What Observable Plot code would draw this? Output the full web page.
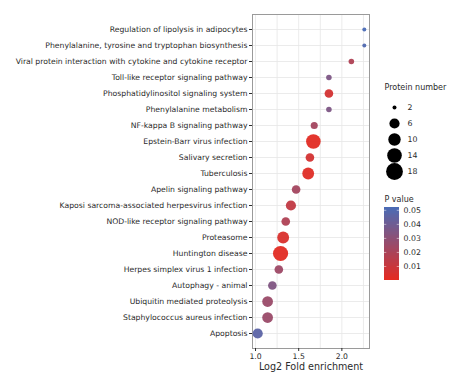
<!DOCTYPE html>
<html>
<head>
<meta charset="utf-8">
<script src="https://cdn.jsdelivr.net/npm/d3@7"></script>
<script src="https://cdn.jsdelivr.net/npm/@observablehq/plot@0.6"></script>
<style>
  html, body { margin: 0; padding: 0; background: #fff; }
  #wrap { position: relative; width: 474px; height: 380px; overflow: hidden; }
  #wrap > svg, #wrap > figure { position: absolute; margin: 0; }
</style>
</head>
<body>
<div id="wrap"></div>
<script>
const pathways = [
  "Regulation of lipolysis in adipocytes",
  "Phenylalanine, tyrosine and tryptophan biosynthesis",
  "Viral protein interaction with cytokine and cytokine receptor",
  "Toll-like receptor signaling pathway",
  "Phosphatidylinositol signaling system",
  "Phenylalanine metabolism",
  "NF-kappa B signaling pathway",
  "Epstein-Barr virus infection",
  "Salivary secretion",
  "Tuberculosis",
  "Apelin signaling pathway",
  "Kaposi sarcoma-associated herpesvirus infection",
  "NOD-like receptor signaling pathway",
  "Proteasome",
  "Huntington disease",
  "Herpes simplex virus 1 infection",
  "Autophagy - animal",
  "Ubiquitin mediated proteolysis",
  "Staphylococcus aureus infection",
  "Apoptosis"
];
const log2FoldEnrichment = [2.26, 2.26, 2.11, 1.85, 1.85, 1.85, 1.68, 1.67, 1.63, 1.61, 1.47, 1.41, 1.35, 1.32, 1.29, 1.27, 1.195, 1.14, 1.14, 1.025];
const proteinNumber = [2, 2, 3, 3, 5, 3, 4, 14, 5, 9, 5, 6, 5, 9, 15, 5, 5, 7, 7, 6];
const pValue = [0.052, 0.050, 0.018, 0.035, 0.006, 0.035, 0.022, 0.001, 0.006, 0.002, 0.022, 0.012, 0.018, 0.004, 0.001, 0.024, 0.034, 0.025, 0.025, 0.046];

const xTicks = [1.0, 1.5, 2.0];
const xGrid = [1.0, 1.25, 1.5, 1.75, 2.0, 2.25];
const sizeTicks = [2, 6, 10, 14, 18];
const pTicks = [0.01, 0.02, 0.03, 0.04, 0.05];
const xLabel = "Log2 Fold enrichment";
const sizeTitle = "Protein number";
const colorTitle = "P value";

const data = pathways.map((name, i) => ({
  name, fe: log2FoldEnrichment[i], n: proteinNumber[i], p: pValue[i]
}));

const font = "DejaVu Sans, Verdana, sans-serif";
const rScale = {type: "linear", domain: [2, 6, 18], range: [2, 5.1, 8.4]};
const colorScale = {type: "linear", domain: [0, 0.052], range: ["#e52a20", "#4a6cb6"], interpolate: "rgb"};

const wrap = document.getElementById("wrap");

const main = Plot.plot({
  width: 474, height: 380,
  marginLeft: 252, marginRight: 105, marginTop: 14, marginBottom: 32,
  style: {fontFamily: font, fontSize: "7.7px", color: "#2b2b2b", background: "transparent", overflow: "visible"},
  x: {domain: [0.965, 2.32]},
  y: {type: "point", domain: pathways, padding: 0.54},
  r: rScale,
  color: colorScale,
  marks: [
    Plot.ruleX(xGrid, {stroke: "#e6e6e6", strokeWidth: 0.8}),
    Plot.gridY({stroke: "#e6e6e6", strokeOpacity: 1, strokeWidth: 0.8}),
    Plot.frame({stroke: "#9a9a9a", strokeWidth: 1}),
    Plot.axisY({tickSize: 3, tickPadding: 2, label: null}),
    Plot.axisX({ticks: xTicks, tickFormat: ".1f", tickSize: 3, tickPadding: 2, label: null}),
    Plot.dot(data, {x: "fe", y: "name", r: "n", fill: "p", fillOpacity: 0.95}),
    Plot.text([xLabel], {frameAnchor: "bottom", lineAnchor: "top", dy: 14.5, fontSize: 9.6, fill: "#2b2b2b"})
  ]
});
main.style.left = "0px"; main.style.top = "0px";
wrap.appendChild(main);

// size legend
const sizeLegend = Plot.plot({
  width: 104, height: 110, margin: 0,
  style: {fontFamily: font, fontSize: "7.8px", color: "#2b2b2b", background: "transparent", overflow: "visible"},
  y: {domain: [2, 18], range: [33, 97], axis: null},
  r: rScale,
  marks: [
    Plot.text([sizeTitle], {frameAnchor: "top-left", dx: 14, dy: 13, fontSize: 8, textAnchor: "start", lineAnchor: "middle", fill: "#2b2b2b"}),
    Plot.dot(sizeTicks, {y: d => d, r: d => d, frameAnchor: "left", dx: 24, fill: "black"}),
    Plot.text(sizeTicks, {y: d => d, text: d => String(d), frameAnchor: "left", dx: 37, textAnchor: "start", fill: "#2b2b2b"})
  ]
});
sizeLegend.style.left = "370px"; sizeLegend.style.top = "74px";
wrap.appendChild(sizeLegend);

// color legend (continuous ramp drawn through the same color scale)
const step = 0.001;
const bands = d3.range(0, 0.052, step);
const colorLegend = Plot.plot({
  width: 80, height: 73, marginLeft: 0, marginRight: 65, marginTop: 0, marginBottom: 0,
  style: {fontFamily: font, fontSize: "7.8px", color: "#2b2b2b", background: "transparent", overflow: "visible"},
  x: {domain: [0, 1], axis: null},
  y: {domain: [0, 0.052], axis: null},
  color: colorScale,
  marks: [
    Plot.rect(bands, {x1: 0, x2: 1, y1: d => d, y2: d => Math.min(d + step * 2.5, 0.052), fill: d => d + step / 2, shapeRendering: "crispEdges"}),
    Plot.ruleY(pTicks, {x1: 0, x2: 0.15, stroke: "white", strokeOpacity: 0.5}),
    Plot.ruleY(pTicks, {x1: 0.85, x2: 1, stroke: "white", strokeOpacity: 0.5}),
    Plot.text(pTicks, {y: d => d, text: d => d.toFixed(2), frameAnchor: "right", dx: 4, textAnchor: "start", fill: "#2b2b2b"}),
    Plot.text([colorTitle], {frameAnchor: "top-left", dy: -8, textAnchor: "start", lineAnchor: "middle", fontSize: 8, fill: "#2b2b2b"})
  ]
});
colorLegend.style.left = "384px"; colorLegend.style.top = "207px";
wrap.appendChild(colorLegend);
</script>
</body>
</html>
